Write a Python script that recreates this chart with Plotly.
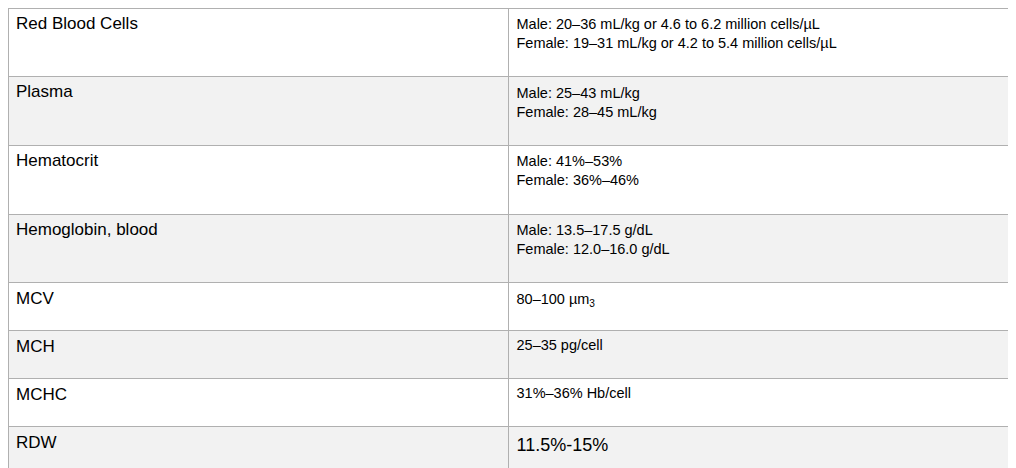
import plotly.graph_objects as go

pad = "<br><span style='font-size:9px'> </span>"
parameters = ["Red Blood Cells", "Plasma", "Hematocrit", "Hemoglobin, blood",
              "MCV", "MCH", "MCHC", "RDW"]
ranges = [
    "Male: 20–36 mL/kg or 4.6 to 6.2 million cells/µL<br>Female: 19–31 mL/kg or 4.2 to 5.4 million cells/µL" + pad,
    "Male: 25–43 mL/kg<br>Female: 28–45 mL/kg" + pad,
    "Male: 41%–53%<br>Female: 36%–46%" + pad,
    "Male: 13.5–17.5 g/dL<br>Female: 12.0–16.0 g/dL" + pad,
    "80–100 µm<sub>3</sub>",
    "25–35 pg/cell",
    "31%–36% Hb/cell",
    "<span style='font-size:18px'>11.5%-15%</span>",
]
fills = ["#ffffff" if i % 2 == 0 else "#f2f2f2" for i in range(len(parameters))]

fig = go.Figure(go.Table(
    columnwidth=[502, 503],
    header=dict(values=["", ""], height=0, line=dict(width=0), fill_color="rgba(0,0,0,0)",
                font=dict(size=1)),
    cells=dict(
        values=[parameters, ranges],
        fill_color=[fills, fills],
        line=dict(color="#b0b0b0", width=1),
        align="left",
        font=dict(family="Liberation Sans, Arial", color="#000000", size=[17, 14.5]),
        height=48,
    ),
))
fig.update_layout(width=1016, height=468, margin=dict(l=0, r=14, t=0, b=0),
                  paper_bgcolor="white")
fig.write_html("out.html")
